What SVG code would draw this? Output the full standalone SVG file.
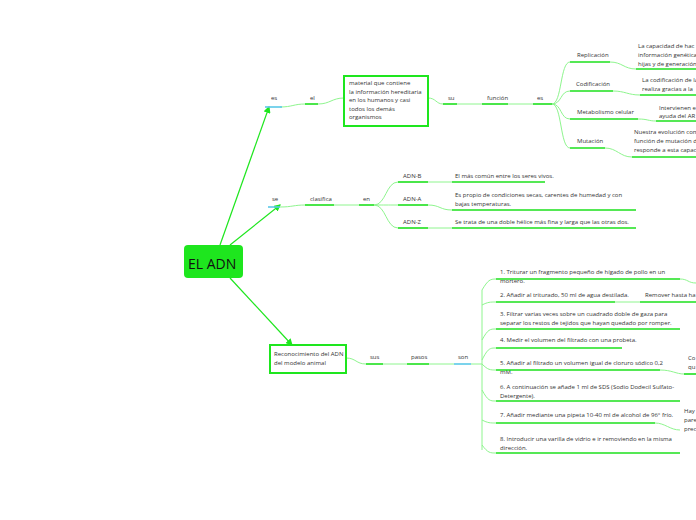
<svg xmlns="http://www.w3.org/2000/svg" width="696" height="520" viewBox="0 0 696 520">
<style>
text{font-family:"Open Sans","Noto Sans",sans-serif;font-size:6px;fill:#333}
.c{fill:none;stroke:#8ef58e;stroke-width:1}
.u{stroke:#1de01d;stroke-width:1.6}
.b{stroke:#5ac8e8;stroke-width:1.6}
.a{stroke:#1ee61e;stroke-width:1.2;fill:none}
.box{fill:#fff;stroke:#1ee61e;stroke-width:2}
</style>
<defs><marker id="m" markerWidth="6" markerHeight="6" refX="5" refY="3" orient="auto"><path d="M0,0L6,3L0,6z" fill="#1ee61e"/></marker></defs>
<rect width="696" height="520" fill="#fff"/>
<g id="connectors">
<path class="a" d="M220,245L269,107" marker-end="url(#m)"/>
<path class="a" d="M230,245L280,205" marker-end="url(#m)"/>
<path class="a" d="M230,278L292,345" marker-end="url(#m)"/>
<path class="c" d="M280,107C292,107 294,104 305,104M318,104C330,104 332,98 344,98"/>
<path class="c" d="M428,98C436,98 436,104 443,104M457,104H482M508,104H533"/>
<path class="c" d="M552,104C562,104 560,62 570,62M552,104C562,104 560,91 570,91M552,104C562,104 560,119 570,119M552,104C562,104 560,148 570,148"/>
<path class="c" d="M610,62C622,62 624,69 636,69M613,91C625,91 628,95 640,95M638,119C648,119 648,121 656,121M605,148C617,148 620,157 632,157"/>
<path class="c" d="M280,207C292,207 294,205 305,205M334,205H359M374,205C386,205 386,182 398,182M374,205C386,205 386,205 398,205M374,205C386,205 386,228 398,228"/>
<path class="c" d="M428,182H452M428,205C440,205 440,210 452,210M428,228H452"/>
<path class="c" d="M346,358C356,358 356,364 366,364M383,364H407M429,364H454M471,364H482"/>
<path class="c" d="M482,290V450"/>
<path class="c" d="M482,290C488,280 490,279 496,279M482,305C488,302 490,302 496,302M482,340C488,329 490,329 496,329M482,360C488,348 490,348 496,348M482,364C488,370 490,370 496,370M482,390C488,401 490,401 496,401M482,420C488,423 490,423 496,423M482,445C488,453 490,453 496,453"/>
<path class="c" d="M680,279C688,279 688,283 696,283M615,302H640M660,370C672,370 676,374 684,374M655,423C665,423 670,430 680,430"/>
</g>
<g id="root"><rect x="184" y="245" width="59" height="33" rx="4" fill="#1ee61e"/><text x="188" y="269" style="font-size:14px;fill:#111">EL ADN</text></g>
<g id="es"><text x="271" y="100">es</text><line class="b" x1="265" y1="107" x2="282" y2="107"/></g>
<g id="el"><text x="310" y="100">el</text><line class="u" x1="305" y1="104" x2="318" y2="104"/></g>
<g id="material"><rect class="box" x="344" y="76" width="84" height="50"/><text x="349" y="85">material que contiene</text><text x="349" y="93.5">la información hereditaria</text><text x="349" y="102">en los humanos y casi</text><text x="349" y="110.5">todos los demás</text><text x="349" y="119">organismos</text></g>
<g id="su"><text x="448" y="100">su</text><line class="u" x1="443" y1="104" x2="457" y2="104"/></g>
<g id="funcion"><text x="487" y="100">función</text><line class="u" x1="482" y1="104" x2="508" y2="104"/></g>
<g id="es2"><text x="537" y="100">es</text><line class="u" x1="533" y1="104" x2="552" y2="104"/></g>
<g id="rep"><text x="577" y="57">Replicación</text><line class="u" x1="570" y1="62" x2="610" y2="62"/></g>
<g id="cod"><text x="576" y="86">Codificación</text><line class="u" x1="570" y1="91" x2="613" y2="91"/></g>
<g id="met"><text x="577" y="114">Metabolismo celular</text><line class="u" x1="570" y1="119" x2="638" y2="119"/></g>
<g id="mut"><text x="577" y="143">Mutación</text><line class="u" x1="570" y1="148" x2="605" y2="148"/></g>
<g id="d1"><text x="638" y="48">La capacidad de hac</text><text x="638" y="57">información genética</text><text x="638" y="66">hijas y de generación</text><line class="u" x1="636" y1="69" x2="696" y2="69"/></g>
<g id="d2"><text x="642" y="82">La codificación de la</text><text x="642" y="91">realiza gracias a la</text><line class="u" x1="640" y1="95" x2="696" y2="95"/></g>
<g id="d3"><text x="659" y="110">Intervienen e</text><text x="659" y="118">ayuda del AR</text><line class="u" x1="656" y1="121" x2="696" y2="121"/></g>
<g id="d4"><text x="634" y="134">Nuestra evolución com</text><text x="634" y="143">función de mutación d</text><text x="634" y="152">responde a esta capac</text><line class="u" x1="632" y1="157" x2="696" y2="157"/></g>
<g id="se"><text x="272" y="201">se</text><line class="b" x1="268" y1="207" x2="280" y2="207"/></g>
<g id="clasifica"><text x="310" y="201">clasifica</text><line class="u" x1="305" y1="205" x2="334" y2="205"/></g>
<g id="en"><text x="363" y="201">en</text><line class="u" x1="359" y1="205" x2="374" y2="205"/></g>
<g id="adnb"><text x="403" y="178">ADN-B</text><line class="u" x1="398" y1="182" x2="428" y2="182"/></g>
<g id="adna"><text x="403" y="201">ADN-A</text><line class="u" x1="398" y1="205" x2="428" y2="205"/></g>
<g id="adnz"><text x="403" y="224">ADN-Z</text><line class="u" x1="398" y1="228" x2="428" y2="228"/></g>
<g id="db"><text x="455" y="178">El más común entre los seres vivos.</text><line class="u" x1="452" y1="182" x2="545" y2="182"/></g>
<g id="da"><text x="455" y="197">Es propio de condiciones secas, carentes de humedad y con</text><text x="455" y="206">bajas temperaturas.</text><line class="u" x1="452" y1="210" x2="636" y2="210"/></g>
<g id="dz"><text x="455" y="224">Se trata de una doble hélice más fina y larga que las otras dos.</text><line class="u" x1="452" y1="228" x2="636" y2="228"/></g>
<g id="recon"><rect class="box" x="270" y="345" width="76" height="28"/><text x="274" y="356">Reconocimiento del ADN</text><text x="274" y="365">del modelo animal</text></g>
<g id="sus"><text x="370" y="359">sus</text><line class="u" x1="366" y1="364" x2="383" y2="364"/></g>
<g id="pasos"><text x="411" y="359">pasos</text><line class="u" x1="407" y1="364" x2="429" y2="364"/></g>
<g id="son"><text x="458" y="359">son</text><line class="b" x1="454" y1="364" x2="471" y2="364"/></g>
<g id="s1"><text x="500" y="274">1. Triturar un fragmento pequeño de hígado de pollo en un</text><text x="500" y="283">mortero.</text><line class="u" x1="496" y1="279" x2="680" y2="279"/></g>
<g id="s2"><text x="500" y="297">2. Añadir al triturado, 50 ml de agua destilada.</text><line class="u" x1="496" y1="302" x2="615" y2="302"/></g>
<g id="s2b"><text x="645" y="297">Remover hasta ha</text><line class="u" x1="640" y1="302" x2="696" y2="302"/></g>
<g id="s3"><text x="500" y="316">3. Filtrar varias veces sobre un cuadrado doble de gaza para</text><text x="500" y="325">separar los restos de tejidos que hayan quedado por romper.</text><line class="u" x1="496" y1="329" x2="680" y2="329"/></g>
<g id="s4"><text x="500" y="342">4. Medir el volumen del filtrado con una probeta.</text><line class="u" x1="496" y1="348" x2="622" y2="348"/></g>
<g id="s5"><text x="500" y="365">5. Añadir al filtrado un volumen igual de cloruro sódico 0,2</text><text x="500" y="374">mM.</text><line class="u" x1="496" y1="370" x2="660" y2="370"/></g>
<g id="s5b"><text x="688" y="360">Co</text><text x="688" y="369">qu</text><line class="u" x1="684" y1="374" x2="696" y2="374"/></g>
<g id="s6"><text x="500" y="389">6. A continuación se añade 1 ml de SDS (Sodio Dodecil Sulfato-</text><text x="500" y="398">Detergente).</text><line class="u" x1="496" y1="401" x2="680" y2="401"/></g>
<g id="s7"><text x="500" y="417">7. Añadir mediante una pipeta 10-40 ml de alcohol de 96° frío.</text><line class="u" x1="496" y1="423" x2="655" y2="423"/></g>
<g id="s7b"><text x="684" y="413">Hay</text><text x="684" y="422">pare</text><text x="684" y="431">prec</text></g>
<g id="s8"><text x="500" y="441">8. Introducir una varilla de vidrio e ir removiendo en la misma</text><text x="500" y="450">dirección.</text><line class="u" x1="496" y1="453" x2="680" y2="453"/></g>
</svg>
